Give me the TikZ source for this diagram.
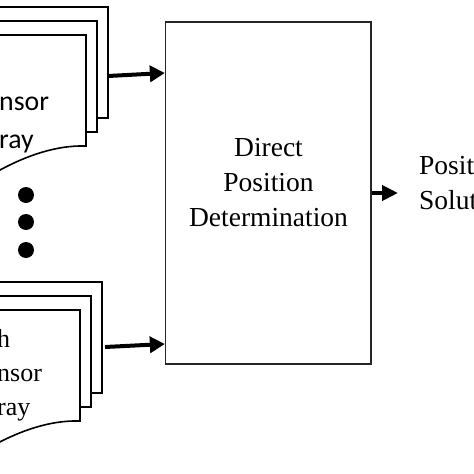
\documentclass[tikz,border=0pt]{standalone}
\usepackage{fontspec}
\setmainfont{Liberation Serif}
\newfontfamily\docsans{Carlito}
\usetikzlibrary{arrows.meta}

\tikzset{
	page/.style={draw=black, fill=white, line width=1.6pt, line join=miter},
	dpdbox/.style={draw=black!85, line width=1.3pt, inner sep=0pt},
	flow/.style={draw=black, line width=4pt, -{Triangle[length=15pt,width=16pt]}},
	sertxt/.style={font=\fontsize{27.5}{35}\selectfont, inner sep=0pt},
	doctxt/.style={font=\fontsize{26}{34}\selectfont, inner sep=0pt, anchor=north west, align=left},
	sanstxt/.style={font=\docsans\fontsize{27.8}{38}\selectfont, inner sep=0pt, anchor=north west, align=left}
}

% #1 = right edge of the front page, #2 = its top
\newcommand{\docstack}[2]{%
	\foreach \k in {2,1}
		\draw[page] (-30,#2-14*\k) rectangle (#1+11*\k,#2-14*\k+111);
	\draw[page] (-30,#2) -- (#1,#2) -- (#1,#2+111)
		.. controls (#1-30,#2+110) and (#1-60,#2+121) .. (#1-86,#2+135)
		-- (#1-120,#2+155) -- (-30,#2+155) -- cycle;
}

\begin{document}
\begin{tikzpicture}[x=1pt, y=-1pt]
	\useasboundingbox (0,0) rectangle (474,474);
	\clip (0,0) rectangle (474,474);
	% sensor stacks
	\docstack{86}{35}
	\node[sanstxt] (toptxt) at (-1,96.5) {nsor\\ray};
	\docstack{80}{310}
	\node[doctxt] (bottxt) at (-3,329) {h\\nsor\\ray};
	\foreach \y in {195,222,250}
		\fill (26,\y) circle[radius=8pt];
	% main block
	\node[dpdbox, minimum width=205.5pt, minimum height=342pt] (dpd) at (268.25,193) {};
	\node[sertxt, align=center] (dpdtxt) at (268.5,183) {Direct\\Position\\Determination};
	\node[sertxt, align=left, anchor=west] (soltxt) at (419,183.5) {Posit\\Solut};
	% arrows
	\coordinate (topsrc) at (108,76);
	\coordinate (botsrc) at (105,347);
	\coordinate (outtip) at (398,193);
	\draw[flow] (topsrc) -- ([yshift=120pt]dpd.west);
	\draw[flow] (botsrc) -- ([yshift=-151pt]dpd.west);
	\draw[flow, -{Triangle[length=16pt,width=15pt]}] (dpd.east) -- (outtip);
\end{tikzpicture}
\end{document}
